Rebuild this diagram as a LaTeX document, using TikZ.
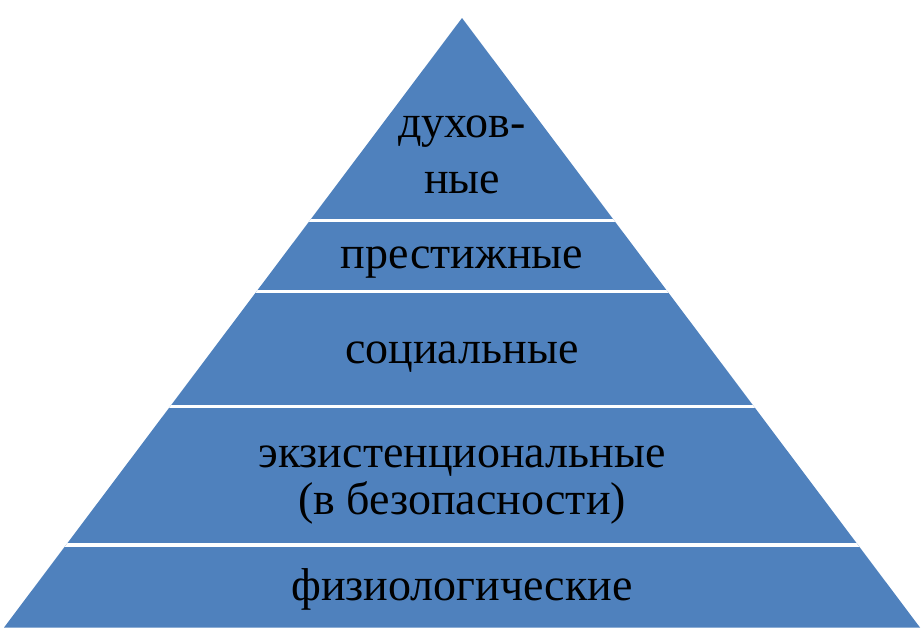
\documentclass[tikz,border=0pt]{standalone}
\usepackage{fontspec}
\setmainfont{Liberation Serif}
\usepackage{xcolor}
\definecolor{pyrblue}{HTML}{4F81BD}
\tikzset{
    level/.style={font=\fontsize{46}{47}\selectfont, text=black, align=center,
    anchor=base, inner sep=0pt},
    cut/.style={white, line width=3.5pt}
}

\begin{document}
\begin{tikzpicture}[x=1pt, y=-1pt]
    \useasboundingbox (0,0) rectangle (923,638);
    \fill[pyrblue] (462,18) -- (920,627.5) -- (4,627.5) -- cycle;
    \begin{scope}
        \clip (462,18) -- (920,627.5) -- (4,627.5) -- cycle;
        \foreach \ycut in {220.5, 291.5, 406.5, 545} {
            \draw[cut] (0,\ycut) -- (923,\ycut);
        }
    \end{scope}
    % base anchor of a two-line node sits on its last line
    \node[level] (spiritual) at (462,193) {духов-\\[9pt]ные};
    \node[level] (prestige) at (462,268) {престижные};
    \node[level] (social) at (462,363) {социальные};
    \node[level] (existential) at (462,514) {экзистенциональные\\(в безопасности)};
    \node[level] (physiological) at (462,600) {физиологические};
\end{tikzpicture}
\end{document}
